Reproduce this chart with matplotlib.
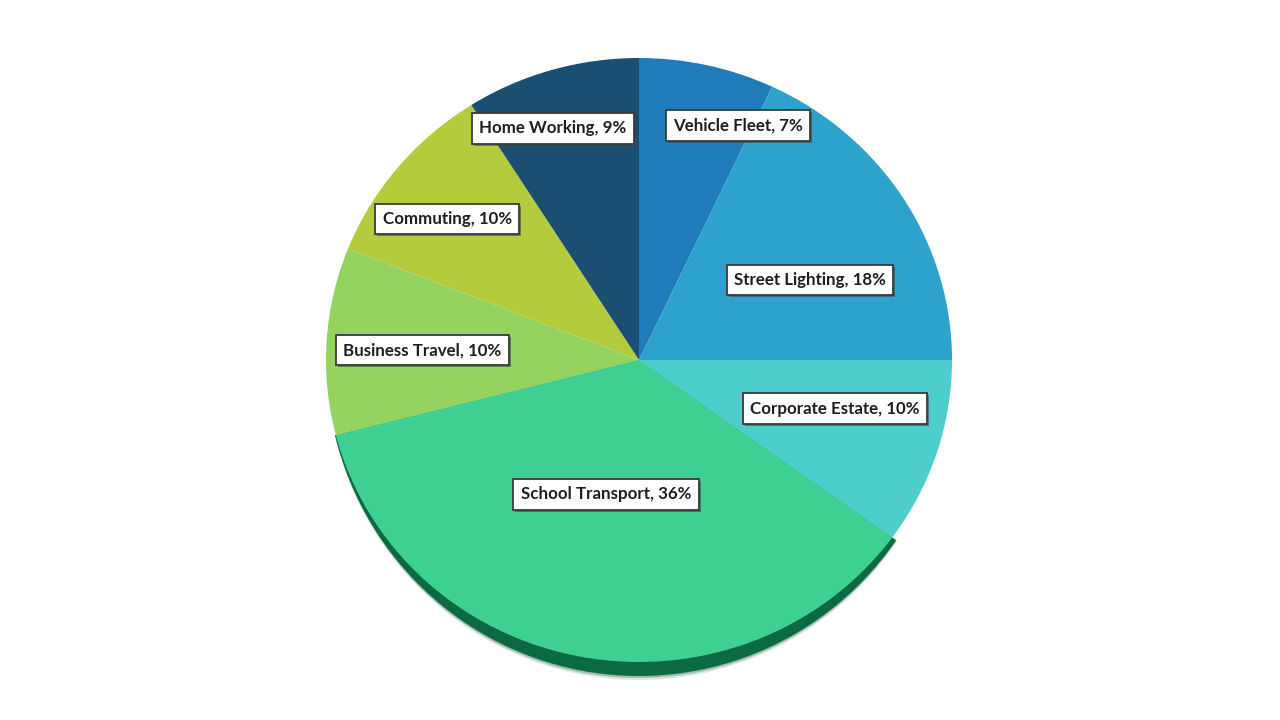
import matplotlib
matplotlib.use("Agg")
import matplotlib.pyplot as plt
from matplotlib.patches import Wedge
from matplotlib.transforms import offset_copy, Affine2D

# ---- data ----
categories = ["Vehicle Fleet", "Street Lighting", "Corporate Estate", "School Transport",
              "Business Travel", "Commuting", "Home Working"]
shares = [7, 18, 10, 36, 10, 10, 9]
colors = ["#1F7BBA", "#2DA2CA", "#4DCDCC", "#3ECF93", "#95D360", "#B4CB3C", "#1B4F72"]

# ---- layout ----
W, H = 1280, 720
cx_px, cy_px = 639, 360
rx_px, ry_px = 313, 302
label_pos = [(0.316, 0.775), (0.546, 0.265), (0.626, -0.162), (-0.105, -0.444),
             (-0.693, 0.033), (-0.613, 0.467), (-0.275, 0.768)]

fig = plt.figure(figsize=(W / 100, H / 100), dpi=100)
ax = fig.add_axes([0, 0, 1, 1])

wedges, _ = ax.pie(shares, colors=colors, startangle=90, counterclock=False,
                   radius=1, center=(0, 0), wedgeprops=dict(linewidth=0, zorder=3))

ax.set_aspect("auto")
ax.set_xlim(-cx_px / rx_px, (W - cx_px) / rx_px)
ax.set_ylim(-(H - cy_px) / ry_px, cy_px / ry_px)
ax.axis("off")

# 3D rim under the School Transport slice (tapers toward the sides)
sch = wedges[3]
for k, (extra, col, a) in enumerate([(18, "#9fb5aa", 0.35),
                                      (16, "#4f8a6c", 0.45),
                                      (14, "#0B6A42", 1.0)]):
    tr = Affine2D().scale(1, 1 + extra / ry_px) + ax.transData
    rim = Wedge((0, 0), 1, sch.theta1 - 5, sch.theta2 + 5, facecolor=col, alpha=a,
                edgecolor="none", zorder=2 + k * 0.1, transform=tr)
    ax.add_patch(rim)
    clip = Wedge((0, 0), 3, sch.theta1, sch.theta2, transform=ax.transData)
    rim.set_clip_path(clip)

font = dict(family=["Lato", "DejaVu Sans"], fontweight="bold", fontsize=12.2)
shadow_tr = offset_copy(ax.transData, fig=fig, x=2, y=-2, units="dots")
for name, val, (lx, ly) in zip(categories, shares, label_pos):
    txt = f"{name}, {val}%"
    ax.text(lx, ly, txt, ha="center", va="center", color="none", transform=shadow_tr,
            zorder=5, **font,
            bbox=dict(boxstyle="square,pad=0.44", facecolor="#444444", edgecolor="none",
                      alpha=0.6))
    ax.text(lx, ly, txt, ha="center", va="center", color="#1e1e1e", zorder=6, **font,
            bbox=dict(boxstyle="square,pad=0.44", facecolor="white", edgecolor="#3a3a3a",
                      linewidth=1.3))

fig.savefig("out.png", dpi=100, facecolor="white")
